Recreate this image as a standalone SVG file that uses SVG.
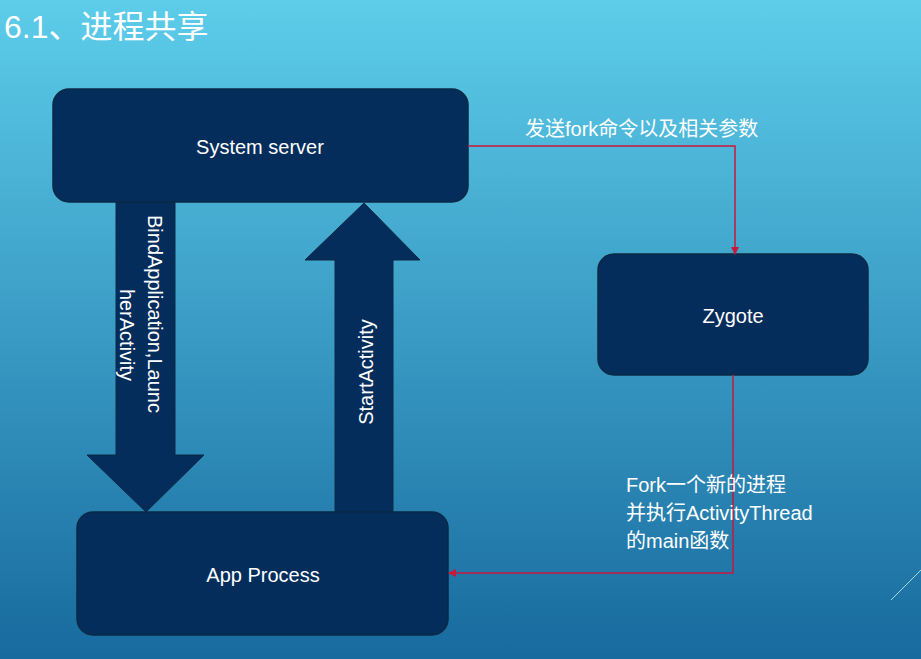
<svg xmlns="http://www.w3.org/2000/svg" width="921" height="659" viewBox="0 0 921 659">
<defs>
<linearGradient id="bg" x1="0" y1="0" x2="0" y2="1">
<stop offset="0" stop-color="#5dcdea"/><stop offset="1" stop-color="#176a9e"/>
</linearGradient>
<marker id="ah" markerWidth="8" markerHeight="8" refX="7" refY="4" orient="auto" markerUnits="userSpaceOnUse">
<path d="M0,0 L8,4 L0,8 Z" fill="#c8183c"/>
</marker>
<style>
.box{fill:#052d5c;stroke:#0a2a44;stroke-width:1.5}
.arr{fill:#052d5c;stroke:#0a2a44;stroke-width:1}
.t{font-family:"Liberation Sans","Noto Sans CJK SC",sans-serif;fill:#fff;font-size:20px}
.red{fill:none;stroke:#c8183c;stroke-width:1.5}
</style>
</defs>
<rect width="921" height="659" fill="url(#bg)"/>
<text class="t" x="4" y="38" style="font-size:32px">6.1、进程共享</text>
<line x1="891" y1="600" x2="921" y2="570" stroke="#a8d8e0" stroke-width="1"/>
<g id="arrow-down">
<path class="arr" d="M116,202 H175 V455 H204 L146,512 L87,455 H116 Z"/>
<text class="t" transform="translate(148,215) rotate(90)">BindApplication,Launc</text>
<text class="t" text-anchor="middle" transform="translate(120,335) rotate(90)">herActivity</text>
</g>
<g id="arrow-up">
<path class="arr" d="M335,512 V260 H305 L364,203 L420,260 H393 V512 Z"/>
<text class="t" text-anchor="middle" transform="translate(373,372) rotate(-90)">StartActivity</text>
</g>
<g id="system-server">
<rect class="box" x="53" y="89" width="415" height="113" rx="16"/>
<text class="t" x="260" y="154" text-anchor="middle">System server</text>
</g>
<g id="zygote">
<rect class="box" x="598" y="254" width="270" height="121" rx="16"/>
<text class="t" x="733" y="323" text-anchor="middle">Zygote</text>
</g>
<g id="app-process">
<rect class="box" x="77" y="512" width="371" height="123" rx="16"/>
<text class="t" x="263" y="582" text-anchor="middle">App Process</text>
</g>
<g id="connectors">
<path class="red" d="M468,146 H735 V254" marker-end="url(#ah)"/>
<path class="red" d="M733,375 V573 H449" marker-end="url(#ah)"/>
</g>
<text class="t" x="525" y="136">发送fork命令以及相关参数</text>
<text class="t" x="626" y="492">Fork一个新的进程</text>
<text class="t" x="626" y="520">并执行ActivityThread</text>
<text class="t" x="626" y="548">的main函数</text>
</svg>
